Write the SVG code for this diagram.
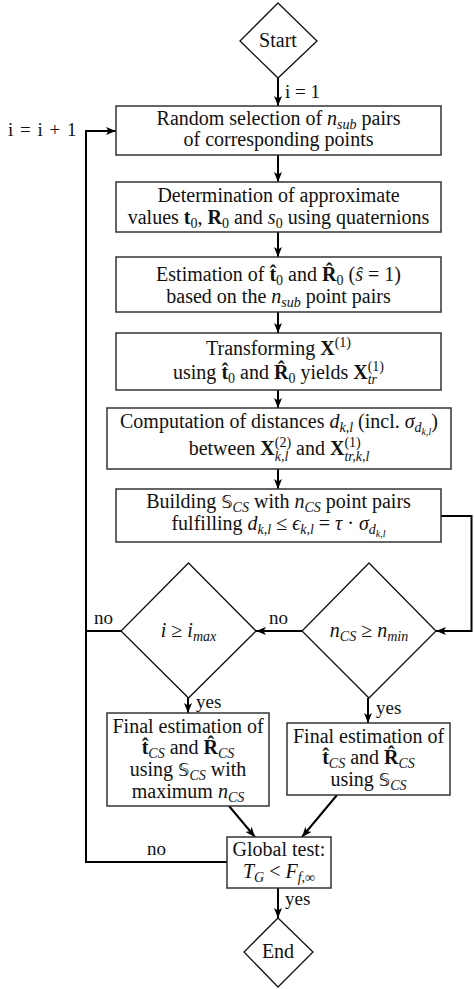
<svg xmlns="http://www.w3.org/2000/svg" width="474" height="989" viewBox="0 0 474 989">
<defs>
<marker id="ah" markerUnits="userSpaceOnUse" markerWidth="10" markerHeight="8" refX="10" refY="4" orient="auto">
<path d="M0,0 L10,4 L0,8 L2.5,4 z" fill="#000"/>
</marker>
<style>
.t{font-family:"Liberation Serif","Times New Roman",serif;font-size:20px;fill:#111;text-anchor:middle}
.l{font-family:"Liberation Serif","Times New Roman",serif;font-size:19px;fill:#111;text-anchor:start}
.i{font-style:italic}
.b{font-weight:bold}
.s{font-size:14px}
.ss{font-size:10px}
.bb{font-family:"DejaVu Sans","Noto Sans",sans-serif;font-size:18px}
.box{fill:#fff;stroke:#333;stroke-width:1.5}
.dia{fill:#fff;stroke:#111;stroke-width:1.3}
.c{fill:none;stroke:#000;stroke-width:2}
.a{marker-end:url(#ah)}
</style>
</defs>
<rect width="474" height="989" fill="#fff"/>

<g id="connectors">
<path class="c a" d="M278,78 V106"/>
<path class="c a" d="M278,155 V182"/>
<path class="c a" d="M278,232 V257"/>
<path class="c a" d="M278,312 V333"/>
<path class="c a" d="M278,390 V408"/>
<path class="c a" d="M278,469 V489"/>
<path class="c a" d="M441,516 H471.5 V631 H436"/>
<path class="c a" d="M302,631 H256"/>
<path class="c" d="M121,631 H86"/>
<path class="c a" d="M227,862 H86 V131 H116"/>
<path class="c a" d="M188,698 V713"/>
<path class="c a" d="M368,698 V723"/>
<path class="c a" d="M229,806 L255,837"/>
<path class="c a" d="M337,795 L302,837"/>
<path class="c a" d="M278,888 V918"/>
<text class="l" x="285" y="98">i = 1</text>
<text class="l" x="8" y="136" word-spacing="2">i = i + 1</text>
<text class="l" x="94" y="624">no</text>
<text class="l" x="269" y="624">no</text>
<text class="l" x="196" y="708">yes</text>
<text class="l" x="376" y="714">yes</text>
<text class="l" x="147" y="855">no</text>
<text class="l" x="285" y="905">yes</text>
</g>

<g id="start">
<polygon class="dia" points="278,3 317,41 278,78 240,41"/>
<text class="t" x="278" y="47">Start</text>
</g>

<g id="box1">
<rect class="box" x="116" y="106" width="325" height="49"/>
<text class="t" x="278.5" y="125">Random selection of <tspan class="i">n</tspan><tspan class="s i" dy="4">sub</tspan><tspan dy="-4"> pairs</tspan></text>
<text class="t" x="278.5" y="146">of corresponding points</text>
</g>

<g id="box2">
<rect class="box" x="116" y="182" width="325" height="50"/>
<text class="t" x="278.5" y="202">Determination of approximate</text>
<text class="t" x="278.5" y="224">values <tspan class="b">t</tspan><tspan class="s" dy="4">0</tspan><tspan dy="-4">, </tspan><tspan class="b">R</tspan><tspan class="s" dy="4">0</tspan><tspan dy="-4"> and </tspan><tspan class="i">s</tspan><tspan class="s" dy="4">0</tspan><tspan dy="-4"> using quaternions</tspan></text>
</g>

<g id="box3">
<rect class="box" x="116" y="257" width="325" height="55"/>
<text class="t" x="278.5" y="281">Estimation of <tspan class="b">t̂</tspan><tspan class="s" dy="4">0</tspan><tspan dy="-4"> and </tspan><tspan class="b">R̂</tspan><tspan class="s" dy="4">0</tspan><tspan dy="-4"> (</tspan><tspan class="i">ŝ</tspan><tspan> = 1)</tspan></text>
<text class="t" x="278.5" y="303">based on the <tspan class="i">n</tspan><tspan class="s i" dy="4">sub</tspan><tspan dy="-4"> point pairs</tspan></text>
</g>

<g id="box4">
<rect class="box" x="116" y="333" width="325" height="57"/>
<text class="t" x="278.5" y="355">Transforming <tspan class="b">X</tspan><tspan class="s" dy="-8">(1)</tspan></text>
<text class="t" x="278.5" y="379">using <tspan class="b">t̂</tspan><tspan class="s" dy="4">0</tspan><tspan dy="-4"> and </tspan><tspan class="b">R̂</tspan><tspan class="s" dy="4">0</tspan><tspan dy="-4"> yields </tspan><tspan class="b">X</tspan><tspan class="s" dy="-8">(1)</tspan><tspan class="s i" dx="-16.3" dy="13">tr</tspan><tspan dx="7" dy="-5"> </tspan></text>
</g>

<g id="box5">
<rect class="box" x="107" y="408" width="344" height="61"/>
<text class="t" x="279" y="428">Computation of distances <tspan class="i">d</tspan><tspan class="s i" dy="4">k,l</tspan><tspan dy="-4"> (incl. </tspan><tspan class="i">σ</tspan><tspan class="s i" dy="4">d</tspan><tspan class="ss i" dy="3">k,l</tspan><tspan dy="-7">)</tspan></text>
<text class="t" x="279" y="455">between <tspan class="b">X</tspan><tspan class="s" dy="-8">(2)</tspan><tspan class="s i" dx="-16.3" dy="14">k,l</tspan><tspan dx="2.7" dy="-6"> and </tspan><tspan class="b">X</tspan><tspan class="s" dy="-8">(1)</tspan><tspan class="s i" dx="-16.3" dy="14">tr,k,l</tspan></text>
</g>

<g id="box6">
<rect class="box" x="116" y="489" width="325" height="53"/>
<text class="t" x="278.5" y="508">Building <tspan class="bb">𝕊</tspan><tspan class="s i" dy="4">CS</tspan><tspan dy="-4"> with </tspan><tspan class="i">n</tspan><tspan class="s i" dy="4">CS</tspan><tspan dy="-4"> point pairs</tspan></text>
<text class="t" x="278.5" y="530">fulfilling <tspan class="i">d</tspan><tspan class="s i" dy="4">k,l</tspan><tspan dy="-4"> ≤ </tspan><tspan class="i">ϵ</tspan><tspan class="s i" dy="4">k,l</tspan><tspan dy="-4"> = </tspan><tspan class="i">τ</tspan><tspan> · </tspan><tspan class="i">σ</tspan><tspan class="s i" dy="4">d</tspan><tspan class="ss i" dy="3">k,l</tspan></text>
</g>

<g id="decision_ncs">
<polygon class="dia" points="369,563 436,631 369,698 302,631"/>
<text class="t" x="369" y="637"><tspan class="i">n</tspan><tspan class="s i" dy="4">CS</tspan><tspan dy="-4"> ≥ </tspan><tspan class="i">n</tspan><tspan class="s i" dy="4">min</tspan></text>
</g>

<g id="decision_imax">
<polygon class="dia" points="188.5,563 256,631 188.5,698 121,631"/>
<text class="t" x="188.5" y="637"><tspan class="i">i</tspan><tspan> ≥ </tspan><tspan class="i">i</tspan><tspan class="s i" dy="4">max</tspan></text>
</g>

<g id="final_left">
<rect class="box" x="107" y="713" width="162" height="93"/>
<text class="t" x="188" y="733">Final estimation of</text>
<text class="t" x="188" y="754"><tspan class="b">t̂</tspan><tspan class="s i" dy="4">CS</tspan><tspan dy="-4"> and </tspan><tspan class="b">R̂</tspan><tspan class="s i" dy="4">CS</tspan></text>
<text class="t" x="188" y="776">using <tspan class="bb">𝕊</tspan><tspan class="s i" dy="4">CS</tspan><tspan dy="-4"> with</tspan></text>
<text class="t" x="188" y="798">maximum <tspan class="i">n</tspan><tspan class="s i" dy="4">CS</tspan></text>
</g>

<g id="final_right">
<rect class="box" x="287" y="723" width="163" height="72"/>
<text class="t" x="368.5" y="743">Final estimation of</text>
<text class="t" x="368.5" y="764"><tspan class="b">t̂</tspan><tspan class="s i" dy="4">CS</tspan><tspan dy="-4"> and </tspan><tspan class="b">R̂</tspan><tspan class="s i" dy="4">CS</tspan></text>
<text class="t" x="368.5" y="786">using <tspan class="bb">𝕊</tspan><tspan class="s i" dy="4">CS</tspan></text>
</g>

<g id="global_test">
<rect class="box" x="227" y="837" width="104" height="51"/>
<text class="t" x="279" y="856">Global test:</text>
<text class="t" x="279" y="878"><tspan class="i">T</tspan><tspan class="s i" dy="4">G</tspan><tspan dy="-4"> &lt; </tspan><tspan class="i">F</tspan><tspan class="s i" dy="4">f,∞</tspan></text>
</g>

<g id="end">
<polygon class="dia" points="278,918 313,952 278,987 244,952"/>
<text class="t" x="278" y="958">End</text>
</g>
</svg>
